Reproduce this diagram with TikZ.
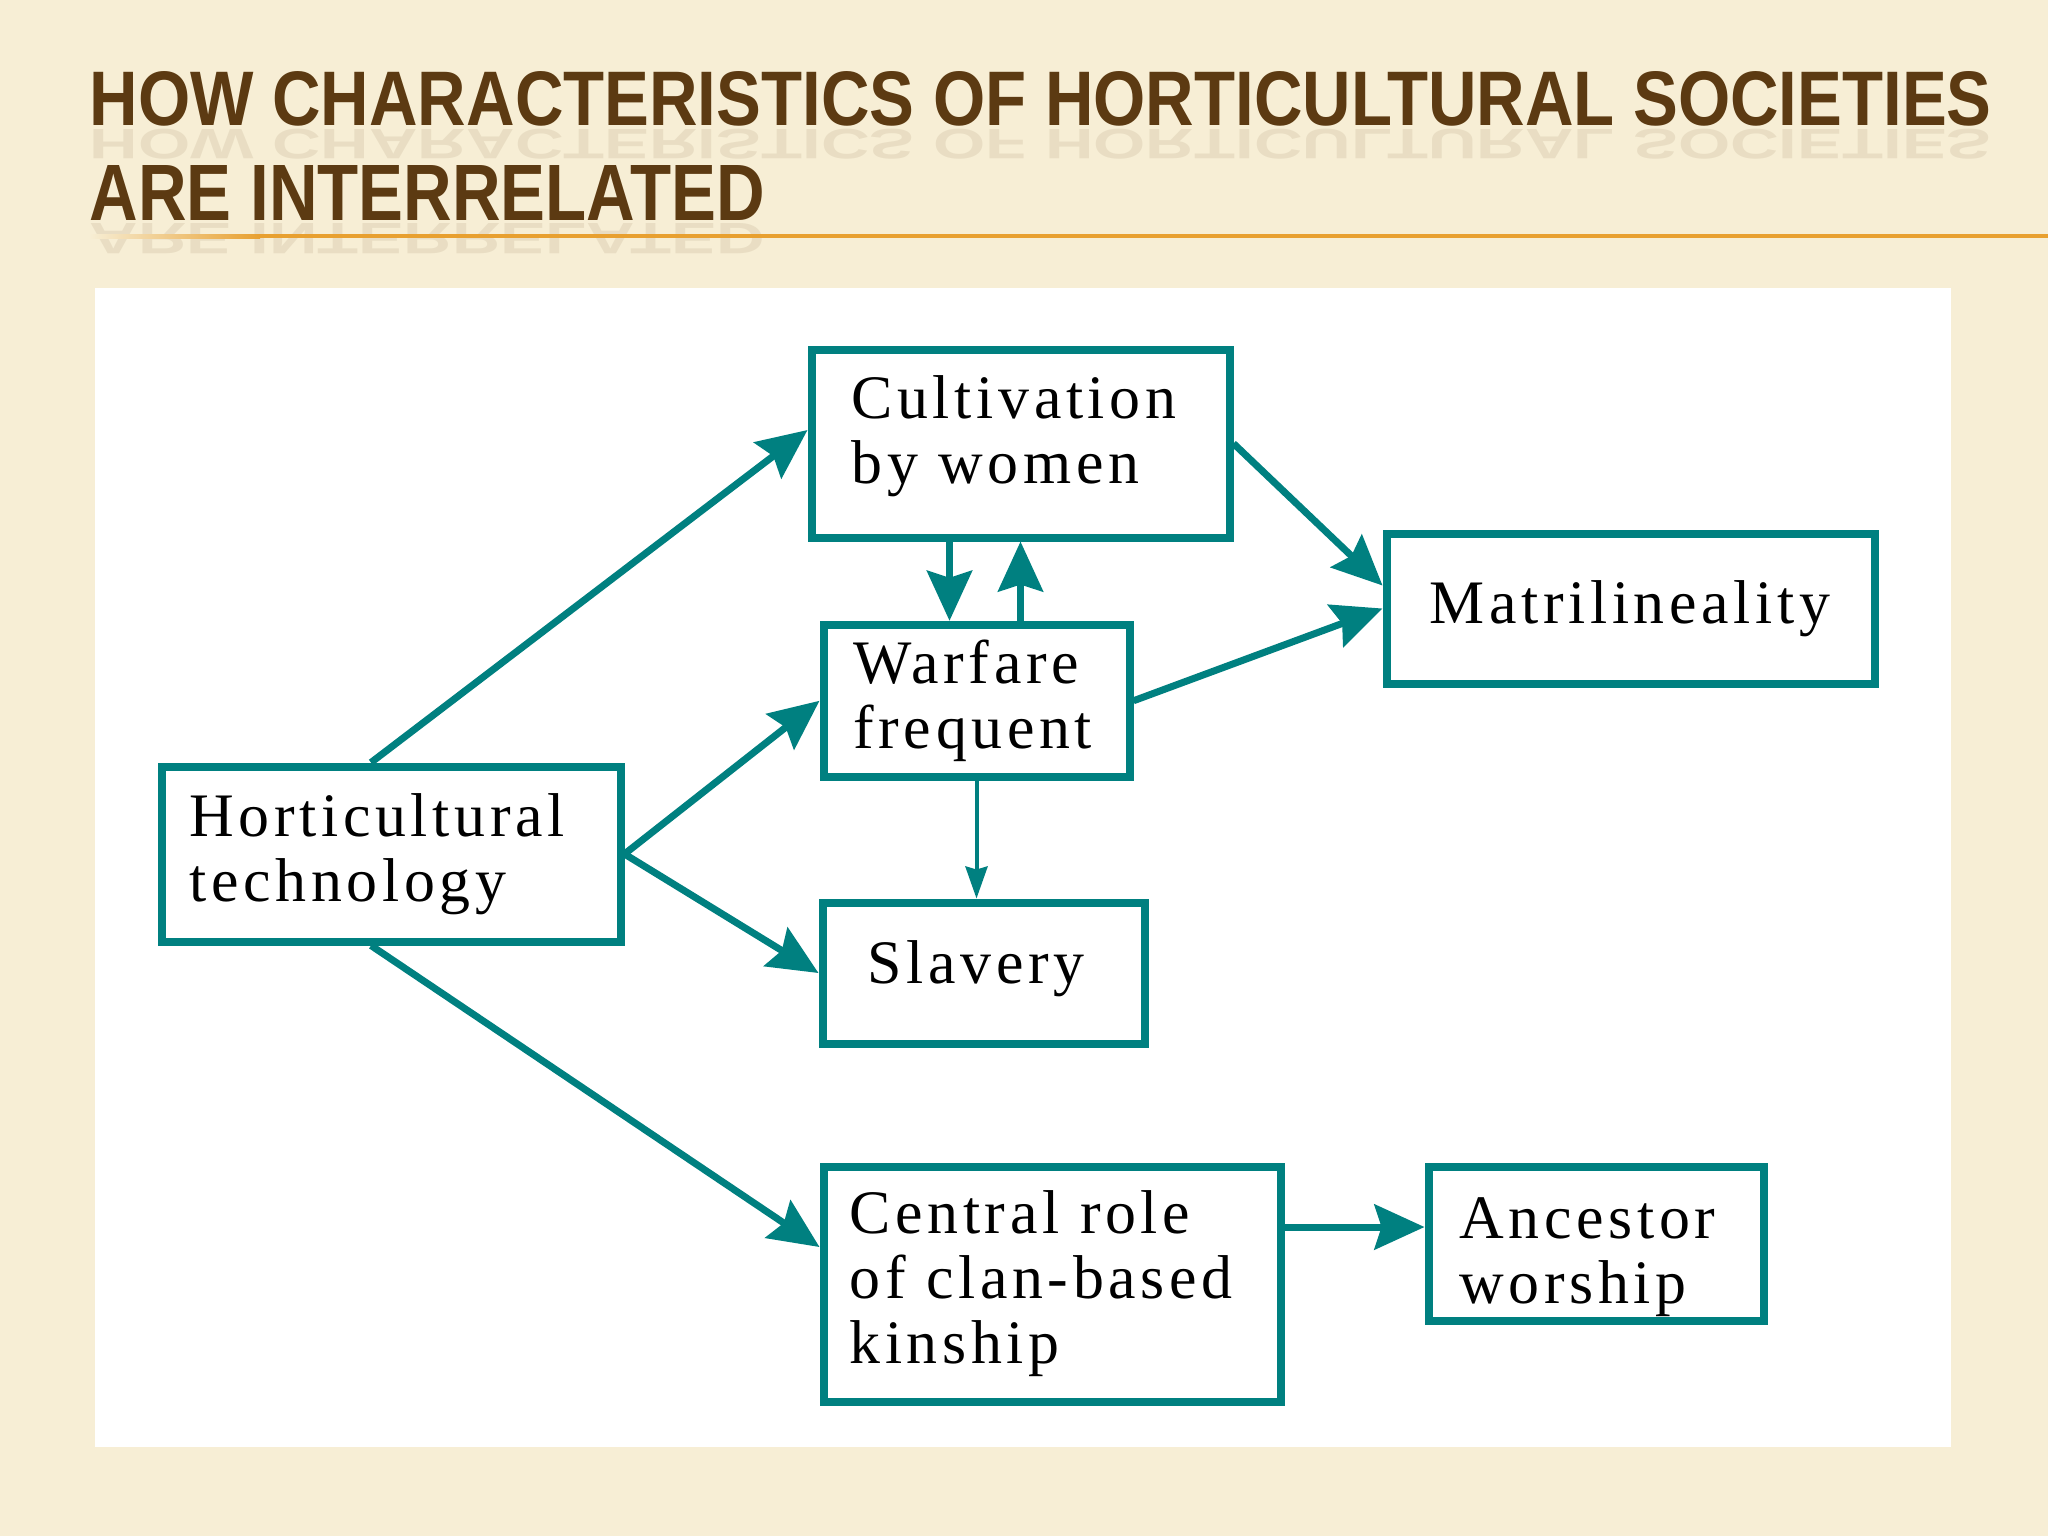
\documentclass[tikz,border=0pt]{standalone}
\usepackage{graphicx}
\usepackage{fontspec}
\setmainfont{Liberation Serif}
\newfontfamily\boxfont[LetterSpace=7.5]{Liberation Serif}
\newfontfamily\titlefont{Liberation Sans}
\usepackage{tikz}
\usetikzlibrary{arrows.meta}

\definecolor{slide}{RGB}{247,238,213}
\definecolor{titlebrown}{RGB}{92,58,18}
\definecolor{rulegold}{RGB}{232,160,48}
\definecolor{boxteal}{RGB}{0,128,128}

\newcommand{\titleone}{\resizebox{190.2mm}{5.4mm}{\titlefont\bfseries HOW CHARACTERISTICS OF HORTICULTURAL SOCIETIES}}
\newcommand{\titletwo}{\resizebox{67.5mm}{5.5mm}{\titlefont\bfseries ARE INTERRELATED}}

\tikzset{
  box/.style={draw=boxteal, line width=0.8mm, fill=white, align=left, inner ysep=0pt,
    font=\boxfont\fontsize{17.6pt}{18.5pt}\selectfont},
  link/.style={draw=boxteal, line width=0.7mm, -{Stealth[length=5mm, width=4.5mm, inset=0.7mm]}},
  thinlink/.style={draw=boxteal, line width=0.4mm, -{Stealth[length=3.2mm, width=2.2mm, inset=0.3mm]}},
}

\begin{document}
\begin{tikzpicture}[x=0.1mm, y=-0.1mm]
    \useasboundingbox (0,0) rectangle (2048,1536);
    \fill[slide] (0,0) rectangle (2048,1536);

    % title with its faint reflection
    \node[anchor=base west, inner sep=0pt, text=titlebrown] (title1) at (89,125) {\titleone};
    \node[anchor=north west, inner sep=0pt, text=titlebrown, opacity=0.09] (mirror1) at (89,128) {\scalebox{1}[-0.55]{\titleone}};
    \node[anchor=base west, inner sep=0pt, text=titlebrown] (title2) at (89,220) {\titletwo};
    \node[anchor=north west, inner sep=0pt, text=titlebrown, opacity=0.09] (mirror2) at (89,223) {\scalebox{1}[-0.55]{\titletwo}};
    \shade[left color=slide, right color=rulegold] (89,234) rectangle (260,238);
    \fill[rulegold] (260,234) rectangle (2048,238);

    \fill[white] (95,288) rectangle (1951,1447);

    % boxes
    \node[box, minimum width=41.8mm, minimum height=18.8mm, text width=33.8mm, inner xsep=4mm, text depth=9.3mm] (cult) at (1020.5,443.5) {Cultivation\\by women};
    \node[box, minimum width=30.6mm, minimum height=15.2mm, text width=24.6mm, inner xsep=3mm] (war) at (976.5,700.75) {Warfare\\frequent};
    \node[box, minimum width=48.8mm, minimum height=15mm, text width=40.2mm, inner xsep=4.3mm] (matri) at (1630.5,608.5) {Matrilineality};
    \node[box, minimum width=45.9mm, minimum height=17.5mm, text width=40.3mm, inner xsep=2.8mm] (hort) at (391,854) {Horticultural\\technology};
    \node[box, minimum width=32.2mm, minimum height=14.1mm, text width=23.2mm, inner xsep=4.5mm, text depth=2.2mm] (slav) at (983.5,973) {Slavery};
    \node[box, minimum width=45.7mm, minimum height=23.5mm, text width=40.5mm, inner xsep=2.6mm] (cent) at (1052,1284) {Central role\\of clan-based\\kinship};
    \node[box, minimum width=33.5mm, minimum height=15.4mm, text width=27.3mm, inner xsep=3.1mm, text depth=5.1mm] (anc) at (1596,1243.5) {Ancestor\\worship};

    % links
    \draw[link] ([xshift=-2mm]hort.north) -- ([yshift=1.35mm]cult.west);
    \draw[link] (hort.east) -- (war.west);
    \draw[link] (hort.east) -- (slav.west);
    \draw[link] ([xshift=-2mm]hort.south) -- ([yshift=3.7mm]cent.west);
    \draw[link] (cult.east) -- ([yshift=2.3mm]matri.west);
    \draw[link] (war.east) -- (matri.west);
    \draw[link] ([xshift=-7.1mm]cult.south) -- ([xshift=-7.1mm]cult.south |- war.north);
    \draw[link] (cult.south |- war.north) -- (cult.south);
    \draw[thinlink] (war.south) -- (war.south |- slav.north);
    \draw[link] ([yshift=1.65mm]anc.west -| cent.east) -- ([yshift=1.65mm]anc.west);
\end{tikzpicture}
\end{document}
